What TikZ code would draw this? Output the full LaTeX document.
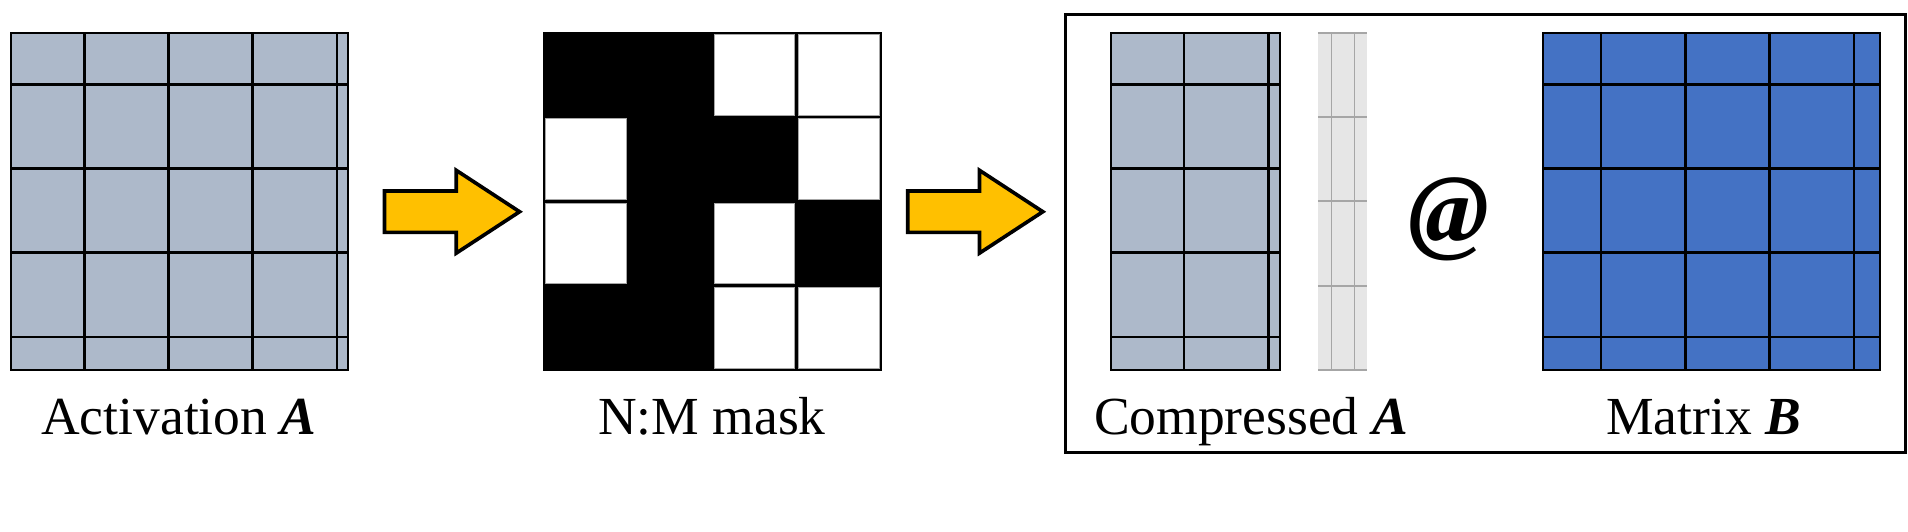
\documentclass[tikz,border=0pt]{standalone}
\usepackage{fontspec}
\setmainfont{Liberation Serif}
\begin{document}
\begin{tikzpicture}[x=1pt,y=-1pt,
  lbl/.style={font=\fontsize{44}{50}\selectfont, anchor=base},
  arr/.style={fill=arrowc, draw=black, line width=3pt, line join=miter},
  gridline/.style={line width=2.2pt, draw=black}]
\definecolor{grayA}{HTML}{ADB9CA}
\definecolor{blueB}{HTML}{4472C4}
\definecolor{arrowc}{HTML}{FFC000}
\definecolor{meta}{HTML}{E6E6E6}
\definecolor{metal}{HTML}{A6A6A6}
\useasboundingbox (0,0) rectangle (1568,437);
% Activation A
\fill[grayA] (9,27) rectangle (286,304);
\draw[gridline] (9,27) grid[xstep=69.25pt,ystep=69.25pt] (286.01,304.01);
\draw[gridline] (9,27) rectangle (286,304);
\node[lbl] (la) at (147,357) {Activation \textbf{\textit{A}}};
% Arrow 1
\draw[arr] (316,157) -- (375,157) -- (375,140) -- (427,174) -- (375,208) -- (375,191) -- (316,191) -- cycle;
% Mask
\fill[black] (447,27) rectangle (724,304);
\foreach \c/\r in {2/0,3/0,0/1,3/1,0/2,2/2,2/3,3/3}{
  \draw[fill=white, draw=metal, line width=0.8pt] ({447+\c*69.25+1.5},{27+\r*69.25+1.5}) rectangle ++(66.25,66.25);
}
\draw[line width=2pt] (447,27) rectangle (724,304);
\node[lbl] (lm) at (585,357) {N:M mask};
% Arrow 2
\draw[arr] (746,157) -- (805,157) -- (805,140) -- (857,174) -- (805,208) -- (805,191) -- (746,191) -- cycle;
% Box
\draw[line width=2.5pt] (876,12) rectangle (1566,372);
% Compressed A
\fill[grayA] (913,27) rectangle (1052,304);
\draw[gridline] (913,27) grid[xstep=69.5pt,ystep=69.25pt] (1052.01,304.01);
\draw[gridline] (913,27) rectangle (1052,304);
% metadata strip
\fill[meta] (1083,27) rectangle (1123,304);
\foreach \yy in {27,96.25,165.5,234.75,304}{\draw[metal,line width=1.6pt] (1083,\yy) -- (1123,\yy);}
\draw[metal,line width=0.9pt] (1094,27) -- (1094,304);
\draw[metal,line width=0.9pt] (1113,27) -- (1113,304);
\node[lbl] (lc) at (1028,357) {Compressed \textbf{\textit{A}}};
% @
\node[font=\fontsize{80}{90}\selectfont\bfseries\itshape] (at) at (1191,180) {@};
% Matrix B
\fill[blueB] (1268,27) rectangle (1545,304);
\draw[gridline] (1268,27) grid[xstep=69.25pt,ystep=69.25pt] (1545.01,304.01);
\draw[gridline] (1268,27) rectangle (1545,304);
\node[lbl] (lb) at (1400,357) {Matrix \textbf{\textit{B}}};
\end{tikzpicture}
\end{document}
